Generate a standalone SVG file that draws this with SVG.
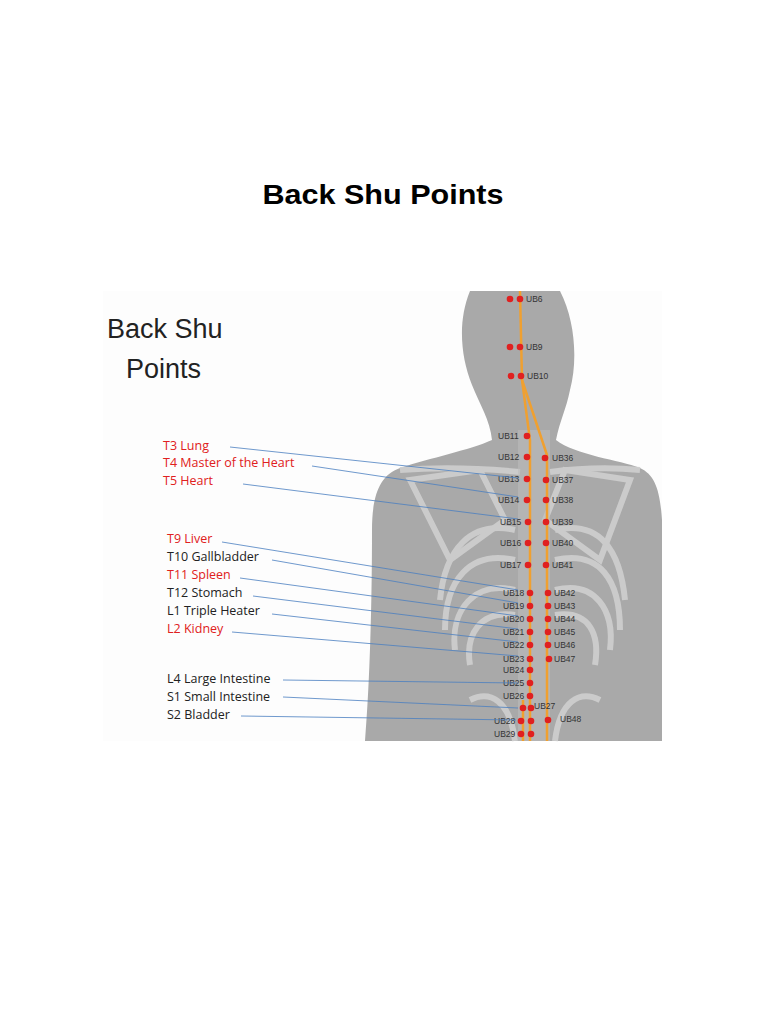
<svg xmlns="http://www.w3.org/2000/svg" width="768" height="1024" viewBox="0 0 768 1024">
<style>
.t{font-family:"Liberation Sans",Arial,sans-serif}
.lb{font-family:"Open Sans","Liberation Sans",sans-serif;font-size:12.5px}
.r{fill:#e02020}
.k{fill:#222}
.ub{font-family:"Liberation Sans",Arial,sans-serif;font-size:8.5px;fill:#333}
.ln{stroke:#4a7fc0;stroke-width:0.8;fill:none}
.or{stroke:#f0a030;stroke-width:2.5;fill:none}
</style>
<rect width="768" height="1024" fill="#fff"/>
<text x="383" y="204" text-anchor="middle" class="t" font-size="28" font-weight="bold" fill="#000" textLength="241" lengthAdjust="spacingAndGlyphs">Back Shu Points</text>
<rect x="103" y="291" width="559" height="450" fill="#fdfdfd"/>
<path d="M470,291 L560,291 C575,320 578,360 570,390 C566,410 560,420 556,440 C575,455 620,460 640,468 C655,475 660,490 662,520 L662,741 L365,741 C370,680 372,600 372,530 C372,495 380,475 400,468 C430,458 470,450 492,440 C490,420 480,405 472,385 C460,355 458,320 470,291 Z" fill="#a9a9a9"/>
<g fill="none" stroke="#cfcfcf" stroke-width="6" opacity="0.9">
<path d="M400,470 C450,466 500,470 520,472"/><path d="M640,470 C600,466 565,470 550,472"/>
<path d="M410,480 L480,470 L505,520 L450,560 Z"/>
<path d="M630,480 L565,470 L545,520 L600,560 Z"/>
<path d="M515,530 C470,520 445,550 440,600"/><path d="M515,560 C470,550 445,580 445,630"/>
<path d="M515,590 C475,580 450,610 455,650"/><path d="M515,615 C480,610 465,635 470,665"/>
<path d="M555,530 C600,520 620,550 625,600"/><path d="M555,560 C600,550 620,580 620,630"/>
<path d="M555,590 C595,580 615,610 610,650"/><path d="M555,615 C590,610 600,635 595,665"/>
<path d="M470,700 C490,690 510,700 515,741"/><path d="M600,700 C580,690 560,700 555,741"/>
</g>
<rect x="518" y="430" width="32" height="311" fill="#bdbdbd" opacity="0.6"/>
<g class="or">
<path d="M520,291 L522,380 L530,440 L530,741"/>
<path d="M522,380 L547,455 L547,741"/>
<path d="M523,700 L523,741"/>
</g>
<g class="r">
<circle cx="510" cy="299" r="3.3"/><circle cx="520" cy="299" r="3.3"/>
<circle cx="510" cy="347" r="3.3"/><circle cx="520" cy="347" r="3.3"/>
<circle cx="511" cy="376" r="3.3"/><circle cx="521" cy="376" r="3.3"/>
<circle cx="527" cy="436" r="3.3"/>
<circle cx="527" cy="457" r="3.3"/><circle cx="545" cy="458" r="3.3"/>
<circle cx="527" cy="479" r="3.3"/><circle cx="546" cy="480" r="3.3"/>
<circle cx="527" cy="500" r="3.3"/><circle cx="546" cy="500" r="3.3"/>
<circle cx="528" cy="522" r="3.3"/><circle cx="546" cy="522" r="3.3"/>
<circle cx="528" cy="543" r="3.3"/><circle cx="546" cy="543" r="3.3"/>
<circle cx="528" cy="565" r="3.3"/><circle cx="546" cy="565" r="3.3"/>
<circle cx="530" cy="593" r="3.3"/><circle cx="548" cy="593" r="3.3"/>
<circle cx="530" cy="606" r="3.3"/><circle cx="548" cy="606" r="3.3"/>
<circle cx="530" cy="619" r="3.3"/><circle cx="548" cy="619" r="3.3"/>
<circle cx="530" cy="632" r="3.3"/><circle cx="548" cy="632" r="3.3"/>
<circle cx="530" cy="645" r="3.3"/><circle cx="548" cy="645" r="3.3"/>
<circle cx="530" cy="659" r="3.3"/><circle cx="549" cy="659" r="3.3"/>
<circle cx="530" cy="670" r="3.3"/><circle cx="530" cy="683" r="3.3"/><circle cx="530" cy="696" r="3.3"/>
<circle cx="523" cy="708" r="3.3"/><circle cx="531" cy="708" r="3.3"/>
<circle cx="521" cy="721" r="3.3"/><circle cx="531" cy="721" r="3.3"/><circle cx="548" cy="720" r="3.3"/>
<circle cx="521" cy="734" r="3.3"/><circle cx="531" cy="734" r="3.3"/>
</g>
<g class="ub">
<text x="526" y="302">UB6</text><text x="526" y="350">UB9</text><text x="527" y="379">UB10</text>
<text x="498" y="439">UB11</text><text x="498" y="460">UB12</text><text x="552" y="461">UB36</text>
<text x="498" y="482">UB13</text><text x="552" y="483">UB37</text>
<text x="498" y="503">UB14</text><text x="552" y="503">UB38</text>
<text x="500" y="525">UB15</text><text x="552" y="525">UB39</text>
<text x="500" y="546">UB16</text><text x="552" y="546">UB40</text>
<text x="500" y="568">UB17</text><text x="552" y="568">UB41</text>
<text x="503" y="596">UB18</text><text x="554" y="596">UB42</text>
<text x="503" y="609">UB19</text><text x="554" y="609">UB43</text>
<text x="503" y="622">UB20</text><text x="554" y="622">UB44</text>
<text x="503" y="635">UB21</text><text x="554" y="635">UB45</text>
<text x="503" y="648">UB22</text><text x="554" y="648">UB46</text>
<text x="503" y="662">UB23</text><text x="554" y="662">UB47</text>
<text x="503" y="673">UB24</text><text x="503" y="686">UB25</text><text x="503" y="699">UB26</text>
<text x="534" y="709">UB27</text>
<text x="494" y="724">UB28</text><text x="560" y="722">UB48</text>
<text x="494" y="737">UB29</text>
</g>
<text x="107" y="338" class="t" font-size="27" fill="#222">Back Shu</text>
<text x="126" y="378" class="t" font-size="27" fill="#222">Points</text>
<g class="ln">
<line x1="230" y1="447" x2="518" y2="478"/>
<line x1="312" y1="466" x2="518" y2="497"/>
<line x1="243" y1="484" x2="518" y2="519"/>
<line x1="222" y1="542" x2="518" y2="590"/>
<line x1="272" y1="560" x2="518" y2="603"/>
<line x1="240" y1="578" x2="518" y2="616"/>
<line x1="253" y1="596" x2="518" y2="629"/>
<line x1="272" y1="614" x2="518" y2="642"/>
<line x1="232" y1="632" x2="518" y2="656"/>
<line x1="283" y1="680" x2="518" y2="683"/>
<line x1="283" y1="697" x2="518" y2="708"/>
<line x1="241" y1="716" x2="516" y2="720"/>
</g>
<g class="lb">
<text x="163" y="450" class="r">T3 Lung</text>
<text x="163" y="467" class="r">T4 Master of the Heart</text>
<text x="163" y="485" class="r">T5 Heart</text>
<text x="167" y="543" class="r">T9 Liver</text>
<text x="167" y="561" class="k">T10 Gallbladder</text>
<text x="167" y="579" class="r">T11 Spleen</text>
<text x="167" y="597" class="k">T12 Stomach</text>
<text x="167" y="615" class="k">L1 Triple Heater</text>
<text x="167" y="633" class="r">L2 Kidney</text>
<text x="167" y="683" class="k">L4 Large Intestine</text>
<text x="167" y="701" class="k">S1 Small Intestine</text>
<text x="167" y="719" class="k">S2 Bladder</text>
</g>
</svg>
